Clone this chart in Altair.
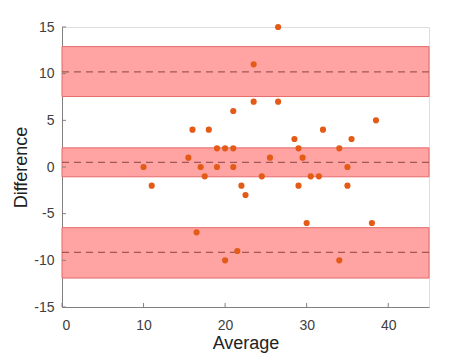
import altair as alt
import pandas as pd

# Scatter data (Average, Difference)
avg = [10, 11, 15.5, 16, 16.5, 17, 17.5, 18, 19, 19, 20, 20, 21, 21, 21, 21.5, 22, 22.5,
       23.5, 23.5, 24.5, 25.5, 26.5, 26.5, 28.5, 29, 29, 29.5, 30, 30.5, 31.5, 32, 34, 34,
       35, 35, 35.5, 38, 38.5]
diff = [0, -2, 1, 4, -7, 0, -1, 4, 2, 0, 2, -10, 6, 2, 0, -9, -2, -3,
        11, 7, -1, 1, 15, 7, 3, 2, -2, 1, -6, -1, -1, 4, 2, -10,
        0, -2, 3, -6, 5]

# Limits of agreement bands (lower, upper) and lines
band_lo = [7.55, -1.05, -11.9]
band_hi = [12.9, 2.05, -6.5]
center = [10.2, 0.5, -9.15]

x_ticks = [0, 10, 20, 30, 40]
y_ticks = [-15, -10, -5, 0, 5, 10, 15]

pts = pd.DataFrame({"Average": avg, "Difference": diff})
bands = pd.DataFrame({"lo": band_lo, "hi": band_hi, "c": center, "x0": [0] * 3, "x1": [45] * 3})
xt = pd.DataFrame({"v": x_ticks})
yt = pd.DataFrame({"v": y_ticks})

xs = alt.Scale(domain=[0, 45], nice=False, zero=False)
ys = alt.Scale(domain=[-15, 15], nice=False, zero=False)

axis_common = dict(
    grid=False, domainColor="#808080", tickSize=0, labelFont="Liberation Sans",
    labelFontSize=14, labelColor="#404040", titleFont="Liberation Sans",
    titleFontSize=18, titleColor="#222222", titleFontWeight="normal",
)

rect = alt.Chart(bands).mark_rect(fill="#FFA3A3", stroke="#E56B6B", strokeWidth=1).encode(
    x=alt.X("x0:Q", scale=xs, axis=alt.Axis(values=x_ticks, title="Average", labelPadding=11,
                                            titlePadding=2, **axis_common)),
    x2="x1:Q",
    y=alt.Y("lo:Q", scale=ys, axis=alt.Axis(values=y_ticks, title="Difference", labelPadding=8,
                                            titlePadding=3, labelExpr="replace(datum.label, '−', '-')",
                                            **axis_common)),
    y2="hi:Q",
)

lines = alt.Chart(bands).mark_rule(color="#96504F", strokeDash=[7, 5], strokeWidth=1.2, opacity=0.9).encode(
    x=alt.X("x0:Q", scale=xs), x2="x1:Q", y=alt.Y("c:Q", scale=ys)
)

points = alt.Chart(pts).mark_circle(size=38, color="#E35B16", opacity=1).encode(
    x=alt.X("Average:Q", scale=xs), y=alt.Y("Difference:Q", scale=ys)
)

xtick = alt.Chart(xt).mark_rule(color="#808080").encode(
    x=alt.X("v:Q", scale=xs), y=alt.value(280), y2=alt.value(276)
)
ytick = alt.Chart(yt).mark_rule(color="#808080").encode(
    y=alt.Y("v:Q", scale=ys), x=alt.value(0), x2=alt.value(4)
)

chart = alt.layer(rect, lines, points, xtick, ytick).properties(
    width=367, height=280,
    autosize=alt.AutoSizeParams(type="none"),
    padding={"left": 62, "top": 27, "right": 45, "bottom": 47},
).configure_view(stroke=None).configure(background="white")

chart.save("out.html", embed_options={"renderer": "svg", "actions": False})
